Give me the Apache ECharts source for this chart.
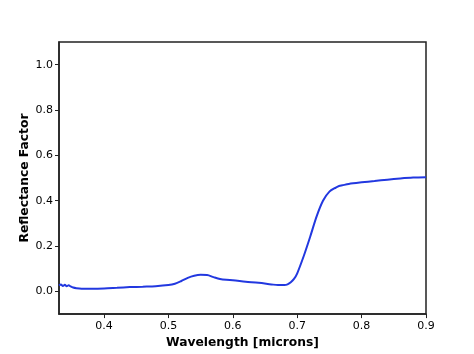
<!DOCTYPE html>
<html>
<head>
<meta charset="utf-8">
<script src="https://cdn.jsdelivr.net/npm/echarts@6/dist/echarts.min.js"></script>
<style>
  html, body { margin: 0; padding: 0; background: #fff; }
  #chart { width: 474px; height: 354px; }
</style>
</head>
<body>
<div id="chart"></div>
<script>
// wavelength in microns
const wavelength = [
  0.330, 0.333, 0.336, 0.339, 0.342, 0.345, 0.348, 0.352, 0.357, 0.365,
  0.380, 0.400, 0.420, 0.440, 0.460, 0.480, 0.500, 0.510, 0.520, 0.530,
  0.540, 0.550, 0.560, 0.570, 0.580, 0.590, 0.600, 0.620, 0.640, 0.660,
  0.670, 0.680, 0.685, 0.690, 0.695, 0.700, 0.710, 0.720, 0.730, 0.740,
  0.750, 0.760, 0.765, 0.770, 0.780, 0.800, 0.820, 0.840, 0.860, 0.880,
  0.900
];
const reflectance = [
  0.026, 0.030, 0.024, 0.029, 0.023, 0.027, 0.022, 0.017, 0.014, 0.012,
  0.012, 0.013, 0.016, 0.019, 0.021, 0.023, 0.028, 0.034, 0.046, 0.060,
  0.069, 0.073, 0.072, 0.063, 0.055, 0.051, 0.049, 0.043, 0.038, 0.031,
  0.028, 0.028, 0.031, 0.040, 0.055, 0.080, 0.155, 0.240, 0.330, 0.400,
  0.440, 0.458, 0.465, 0.468, 0.474, 0.481, 0.487, 0.493, 0.498, 0.502,
  0.504
];
const xTicks = [0.4, 0.5, 0.6, 0.7, 0.8, 0.9];
const yTicks = [0.0, 0.2, 0.4, 0.6, 0.8, 1.0];

const chart = echarts.init(document.getElementById('chart'));
const font = 'DejaVu Sans';

chart.setOption({
  animation: false,
  grid: {
    left: 59, right: 48, top: 42, bottom: 39,
    show: true,
    borderColor: '#222',
    borderWidth: 1.5,
  },
  xAxis: {
    type: 'value',
    min: 0.33,
    max: 0.9,
    name: 'Wavelength [microns]',
    nameLocation: 'middle',
    nameGap: 19,
    nameTextStyle: { fontFamily: font, fontWeight: 'bold', fontSize: 12.3, color: '#000' },
    axisLine: { show: true, onZero: false, lineStyle: { color: '#222', width: 1.5 } },
    axisTick: { show: true, inside: false, length: 4, customValues: xTicks, lineStyle: { color: '#222' } },
    axisLabel: {
      customValues: xTicks,
      margin: 7,
      fontFamily: font, fontSize: 11, color: '#000',
      formatter: v => v.toFixed(1),
    },
    splitLine: { show: false },
  },
  yAxis: {
    type: 'value',
    min: -0.1,
    max: 1.1,
    name: 'Reflectance Factor',
    nameLocation: 'middle',
    nameGap: 28,
    nameMoveOverlap: false,
    nameTextStyle: { fontFamily: font, fontWeight: 'bold', fontSize: 12.3, color: '#000' },
    axisLine: { show: true, onZero: false, lineStyle: { color: '#222', width: 1.5 } },
    axisTick: { show: true, inside: false, length: 4, customValues: yTicks, lineStyle: { color: '#222' } },
    axisLabel: {
      customValues: yTicks,
      margin: 6,
      fontFamily: font, fontSize: 11, color: '#000',
      formatter: v => v.toFixed(1),
    },
    splitLine: { show: false },
  },
  series: [
    {
      type: 'line',
      data: wavelength.map((w, i) => [w, reflectance[i]]),
      smooth: 0.3,
      showSymbol: false,
      lineStyle: { color: '#2238e0', width: 2 },
    },
  ],
});
</script>
</body>
</html>
